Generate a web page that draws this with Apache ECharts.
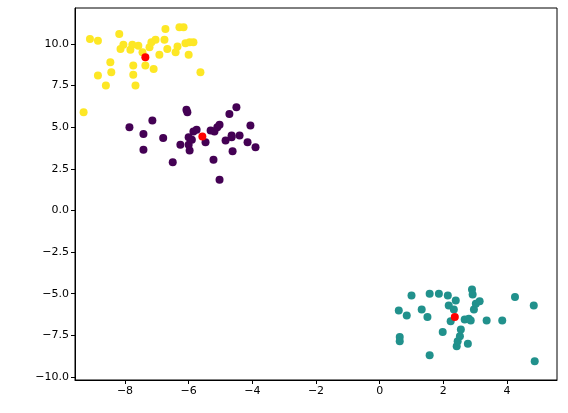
<!DOCTYPE html>
<html><head><meta charset="utf-8">
<script src="https://cdn.jsdelivr.net/npm/echarts@6/dist/echarts.min.js"></script>
<style>html,body{margin:0;padding:0;background:#fff}#c{width:568px;height:413px}</style>
</head><body><div id="c"></div>
<script>
const cluster0 = [[-7.86,5.0],[-7.42,4.6],[-7.42,3.65],[-7.14,5.4],[-6.8,4.35],[-6.5,2.9],[-6.26,3.95],[-6.07,6.05],[-6.04,5.9],[-6.0,4.4],[-6.0,3.95],[-5.97,3.6],[-5.9,4.25],[-5.85,4.75],[-5.75,4.85],[-5.47,4.1],[-5.31,4.8],[-5.22,3.05],[-5.19,4.75],[-5.1,5.0],[-5.03,5.15],[-5.03,1.85],[-4.84,4.2],[-4.72,5.8],[-4.65,4.5],[-4.65,4.4],[-4.62,3.55],[-4.5,6.2],[-4.4,4.5],[-4.15,4.1],[-4.06,5.1],[-3.9,3.8]];
const cluster1 = [[0.6,-6.0],[0.63,-7.6],[0.63,-7.85],[0.85,-6.3],[1.0,-5.1],[1.32,-5.95],[1.5,-6.4],[1.57,-5.0],[1.57,-8.7],[1.86,-5.0],[1.98,-7.3],[2.14,-5.1],[2.17,-5.7],[2.23,-6.65],[2.33,-5.95],[2.39,-5.4],[2.42,-8.15],[2.45,-7.85],[2.52,-7.55],[2.55,-7.15],[2.67,-6.55],[2.8,-6.5],[2.77,-8.0],[2.86,-6.6],[2.9,-4.75],[2.92,-5.05],[2.96,-5.95],[3.02,-5.6],[3.14,-5.45],[3.36,-6.6],[3.85,-6.6],[4.25,-5.2],[4.84,-5.7],[4.87,-9.05]];
const cluster2 = [[-9.3,5.9],[-9.1,10.3],[-8.85,10.2],[-8.85,8.1],[-8.6,7.5],[-8.46,8.9],[-8.43,8.3],[-8.18,10.6],[-8.14,9.7],[-8.05,9.95],[-7.83,9.65],[-7.77,9.95],[-7.74,8.7],[-7.74,8.15],[-7.67,7.5],[-7.58,9.9],[-7.45,9.5],[-7.36,8.7],[-7.23,9.8],[-7.17,10.1],[-7.1,8.5],[-7.04,10.25],[-6.92,9.35],[-6.76,10.25],[-6.73,10.9],[-6.67,9.7],[-6.41,9.5],[-6.35,9.85],[-6.29,11.0],[-6.16,11.0],[-6.1,10.05],[-6.0,9.35],[-5.97,10.1],[-5.85,10.1],[-5.63,8.3]];
const centroids = [[-5.57,4.45],[2.36,-6.4],[-7.36,9.2]];
const xTicks = [-8,-6,-4,-2,0,2,4];
const yTicks = [-10,-7.5,-5,-2.5,0,2.5,5,7.5,10];
const font = 'DejaVu Sans';
const chart = echarts.init(document.getElementById('c'));
const ax = {
  axisLine:{show:true,onZero:false,lineStyle:{color:'#000',width:1}},
  axisTick:{show:true,inside:false,length:4,lineStyle:{color:'#000'}},
  splitLine:{show:false},
};
chart.setOption({
  animation:false,
  grid:{left:75,right:11,top:8,bottom:33,show:true,borderColor:'#000',borderWidth:1},
  xAxis:Object.assign({type:'value',min:-9.57,max:5.57,
    axisTick:Object.assign({},ax.axisTick,{customValues:xTicks}),
    axisLabel:{customValues:xTicks,color:'#000',fontFamily:font,fontSize:11,margin:6,formatter:v=>String(v).replace('-','\u2212')}},
    {axisLine:ax.axisLine,splitLine:ax.splitLine}),
  yAxis:Object.assign({type:'value',min:-10.18,max:12.16,
    axisTick:Object.assign({},ax.axisTick,{customValues:yTicks}),
    axisLabel:{customValues:yTicks,color:'#000',fontFamily:font,fontSize:11,margin:6,formatter:v=>v.toFixed(1).replace('-','\u2212')}},
    {axisLine:ax.axisLine,splitLine:ax.splitLine}),
  series:[
    {type:'scatter',data:cluster0,symbolSize:8,itemStyle:{color:'#440154',opacity:1}},
    {type:'scatter',data:cluster1,symbolSize:8,itemStyle:{color:'#21918c',opacity:1}},
    {type:'scatter',data:cluster2,symbolSize:8,itemStyle:{color:'#fde725',opacity:1}},
    {type:'scatter',data:centroids,symbolSize:8,itemStyle:{color:'#ff0000',opacity:1}}
  ]
});
</script></body></html>
